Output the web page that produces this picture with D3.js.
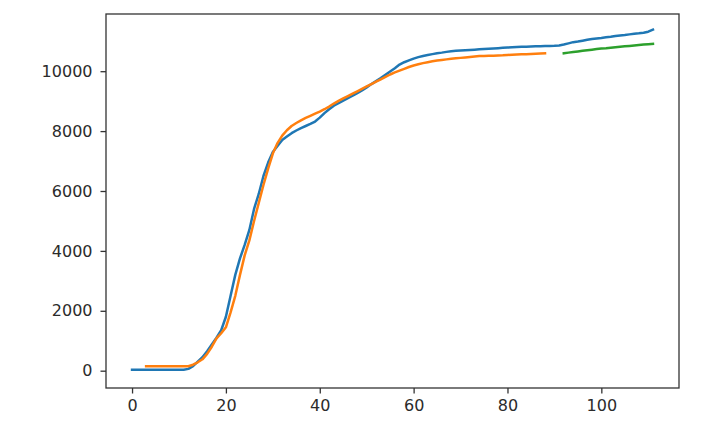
<!DOCTYPE html>
<html>
<head>
<meta charset="utf-8">
<script src="https://cdn.jsdelivr.net/npm/d3@7"></script>
<style>
  body { margin: 0; background: #fff; }
  .tick text { font-family: "DejaVu Sans", sans-serif; font-size: 16px; fill: #2b2b2b; }
  .tick line { stroke: #333; stroke-width: 1.3; }
  .domain { display: none; }
</style>
</head>
<body>
<div id="chart"></div>
<script>
// day index -> value
const blueStart = 0;
const blueValues = [
  30, 30, 30, 30, 30, 30, 30, 30, 30, 30,
  30, 30, 60, 150, 300, 450, 650, 880, 1100, 1350,
  1800, 2500, 3200, 3750, 4200, 4700, 5400, 5900, 6500, 6950,
  7300, 7500, 7700, 7820, 7930, 8020, 8100, 8170, 8240, 8320,
  8450, 8600, 8730, 8850, 8930, 9020, 9100, 9180, 9270, 9360,
  9460, 9570, 9670, 9770, 9880, 9990, 10100, 10220, 10300, 10360,
  10420, 10470, 10510, 10540, 10570, 10600, 10620, 10645, 10665, 10680,
  10690, 10700, 10710, 10720, 10730, 10740, 10750, 10760, 10770, 10780,
  10790, 10800, 10810, 10815, 10820, 10825, 10830, 10835, 10840, 10845,
  10850, 10860, 10890, 10930, 10970, 10990, 11020, 11050, 11075, 11095,
  11110, 11130, 11150, 11175, 11195, 11210, 11230, 11250, 11265, 11285,
  11320, 11390
];

const orangeStart = 3;
const orangeValues = [
  150, 150, 150, 150, 150, 150, 150, 150, 150, 150,
  200, 280, 380, 560, 800, 1080, 1250, 1450, 1950, 2500,
  3200, 3850, 4350, 5000, 5600, 6200, 6750, 7250, 7600, 7850,
  8030, 8170, 8270, 8360, 8440, 8510, 8580, 8650, 8730, 8820,
  8920, 9010, 9090, 9170, 9250, 9330, 9410, 9490, 9570, 9650,
  9730, 9810, 9890, 9960, 10020, 10080, 10140, 10190, 10230, 10270,
  10300, 10330, 10355, 10375, 10395, 10415, 10430, 10445, 10460, 10475,
  10490, 10505, 10510, 10515, 10520, 10525, 10530, 10540, 10550, 10560,
  10565, 10570, 10578, 10585, 10590, 10597
];

const greenStart = 92;
const greenValues = [
  10600, 10620, 10640, 10660, 10680, 10700, 10720, 10740, 10760, 10770,
  10785, 10800, 10815, 10830, 10845, 10860, 10875, 10890, 10900, 10910
];

const xTicks = [0, 20, 40, 60, 80, 100];
const yTicks = [0, 2000, 4000, 6000, 8000, 10000];

const series = [
  { start: blueStart, values: blueValues, color: '#1f77b4' },
  { start: orangeStart, values: orangeValues, color: '#ff7f0e' },
  { start: greenStart, values: greenValues, color: '#2ca02c' }
];

const width = 722, height = 444;
const margin = { top: 14, right: 43, bottom: 56, left: 106 };

const svg = d3.select('#chart').append('svg')
  .attr('width', width)
  .attr('height', height);

const x = d3.scaleLinear()
  .domain([-5.55, 116.55])
  .range([margin.left, width - margin.right]);

const y = d3.scaleLinear()
  .domain([-578, 11910])
  .range([height - margin.bottom, margin.top]);

svg.append('g')
  .attr('transform', `translate(0,${height - margin.bottom})`)
  .call(d3.axisBottom(x).tickValues(xTicks).tickSize(5.5).tickPadding(6).tickFormat(d3.format('d')));

svg.append('g')
  .attr('transform', `translate(${margin.left},0)`)
  .call(d3.axisLeft(y).tickValues(yTicks).tickSize(5.5).tickPadding(8).tickFormat(d3.format('d')));

const line = d3.line()
  .x(d => x(d[0]))
  .y(d => y(d[1]));

svg.append('g')
  .selectAll('path')
  .data(series)
  .enter().append('path')
  .attr('fill', 'none')
  .attr('stroke', d => d.color)
  .attr('stroke-width', 2.5)
  .attr('stroke-linejoin', 'round')
  .attr('stroke-linecap', 'square')
  .attr('d', d => line(d.values.map((v, i) => [d.start + i, v])));

// axes frame
svg.append('rect')
  .attr('x', margin.left)
  .attr('y', margin.top)
  .attr('width', width - margin.left - margin.right)
  .attr('height', height - margin.top - margin.bottom)
  .attr('fill', 'none')
  .attr('stroke', '#333')
  .attr('stroke-width', 1.3);
</script>
</body>
</html>
